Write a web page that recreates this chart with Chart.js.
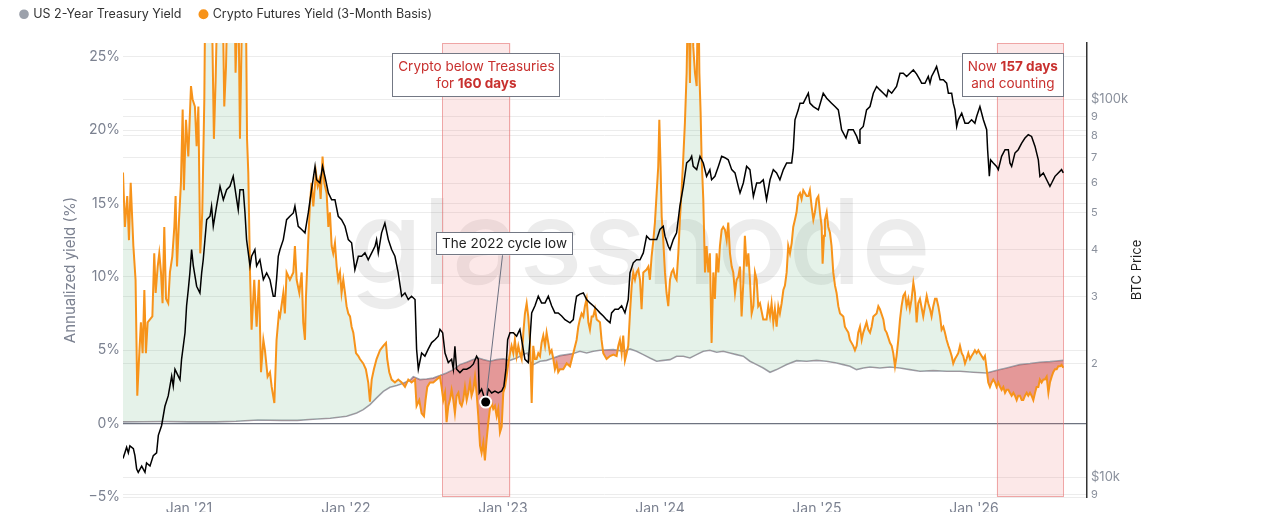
<!DOCTYPE html>
<html>
<head>
<meta charset="utf-8">
<style>
html,body{margin:0;padding:0;background:#fff;}
#wrap{width:1280px;height:512px;position:relative;}
</style>
<script src="https://cdn.jsdelivr.net/npm/chart.js@4.4.1/dist/chart.umd.min.js"></script>
</head>
<body>
<div id="wrap"><canvas id="c" width="1280" height="512"></canvas></div>
<script>
// ---------- DATA (x = decimal year) ----------
const treasuryYield = [
[2020.580,0.12],[2020.700,0.13],[2020.850,0.14],[2021.000,0.12],[2021.170,0.12],[2021.300,0.16],[2021.440,0.25],[2021.590,0.22],
[2021.690,0.22],[2021.790,0.30],[2021.900,0.36],[2022.004,0.50],[2022.068,0.72],[2022.110,0.95],[2022.153,1.30],[2022.195,1.75],
[2022.238,2.20],[2022.280,2.47],[2022.323,2.60],[2022.365,2.75],[2022.408,2.95],[2022.429,3.20],[2022.471,3.00],[2022.514,3.04],
[2022.556,3.10],[2022.599,3.27],[2022.641,3.45],[2022.684,3.68],[2022.726,4.02],[2022.769,4.18],[2022.811,4.36],[2022.843,4.47],
[2022.875,4.36],[2022.917,4.25],[2022.960,4.36],[2023.002,4.41],[2023.044,4.31],[2023.087,4.47],[2023.129,4.70],[2023.155,4.81],
[2023.172,4.25],[2023.193,4.02],[2023.236,4.25],[2023.278,4.31],[2023.321,4.47],[2023.363,4.63],[2023.406,4.70],[2023.448,4.77],
[2023.490,4.93],[2023.533,4.81],[2023.575,4.93],[2023.618,5.00],[2023.703,5.04],[2023.766,4.93],[2023.809,5.09],[2023.851,4.93],
[2023.894,4.70],[2023.936,4.47],[2023.979,4.25],[2024.021,4.31],[2024.064,4.36],[2024.106,4.59],[2024.149,4.59],[2024.191,4.47],
[2024.233,4.70],[2024.276,4.93],[2024.318,5.00],[2024.361,4.86],[2024.403,4.93],[2024.446,4.81],[2024.488,4.70],[2024.531,4.59],
[2024.573,4.25],[2024.616,4.02],[2024.658,3.79],[2024.701,3.50],[2024.743,3.68],[2024.807,4.02],[2024.870,4.29],[2024.934,4.25],
[2024.998,4.31],[2025.061,4.25],[2025.125,4.13],[2025.168,4.02],[2025.210,3.91],[2025.252,3.68],[2025.295,3.79],[2025.338,3.86],
[2025.401,3.79],[2025.465,3.86],[2025.529,3.79],[2025.592,3.68],[2025.656,3.57],[2025.741,3.61],[2025.826,3.57],[2025.911,3.57],
[2025.996,3.50],[2026.081,3.45],[2026.123,3.57],[2026.166,3.68],[2026.208,3.79],[2026.251,3.91],[2026.293,4.02],[2026.357,4.09],
[2026.420,4.18],[2026.484,4.22],[2026.527,4.27],[2026.569,4.31]
];

const cryptoYield = [
[2020.580,17.1],[2020.592,13.4],[2020.607,15.5],[2020.618,12.5],[2020.629,16.4],[2020.646,12.1],[2020.660,9.8],[2020.671,1.9],
[2020.682,4.4],[2020.694,6.9],[2020.705,4.8],[2020.716,9.1],[2020.726,4.8],[2020.737,6.9],[2020.752,7.1],[2020.767,7.3],
[2020.779,11.6],[2020.788,8.9],[2020.801,10.7],[2020.811,11.6],[2020.822,10.3],[2020.832,8.2],[2020.843,13.4],[2020.854,8.5],
[2020.868,8.2],[2020.879,10.3],[2020.894,11.4],[2020.907,13.4],[2020.915,15.5],[2020.924,10.7],[2020.936,13.7],[2020.949,16.4],
[2020.960,21.4],[2020.968,15.9],[2020.981,20.7],[2020.996,18.2],[2021.013,23.0],[2021.023,22.1],[2021.038,21.6],[2021.049,18.9],
[2021.060,21.6],[2021.072,11.6],[2021.085,14.4],[2021.098,22.1],[2021.106,32],[2021.123,38],[2021.144,30],[2021.159,19.4],
[2021.170,23.4],[2021.183,30],[2021.208,34],[2021.225,21.6],[2021.236,24.3],[2021.251,32],[2021.283,36],[2021.297,23.9],
[2021.314,30],[2021.325,19.4],[2021.340,29],[2021.361,31],[2021.370,19.4],[2021.378,17.1],[2021.389,10.3],[2021.399,6.4],
[2021.416,9.8],[2021.431,6.6],[2021.446,9.8],[2021.459,3.5],[2021.474,5.7],[2021.484,5.0],[2021.501,3.2],[2021.516,3.5],
[2021.527,2.5],[2021.544,1.4],[2021.558,5.7],[2021.573,7.5],
[2021.580,7.3],[2021.601,8.9],[2021.611,7.5],[2021.622,10.3],[2021.643,9.8],[2021.665,10.3],[2021.675,12.1],[2021.686,9.8],
[2021.703,8.9],[2021.718,10.3],[2021.728,6.9],[2021.739,5.7],[2021.745,8.5],[2021.760,12.5],[2021.771,15.0],[2021.781,16.4],
[2021.792,14.8],[2021.809,17.1],[2021.820,16.2],[2021.830,16.6],[2021.839,15.3],[2021.851,18.2],[2021.862,16.4],[2021.877,15.7],
[2021.888,13.4],[2021.898,14.4],[2021.909,12.1],[2021.919,11.6],[2021.930,12.3],[2021.941,10.7],[2021.951,9.8],[2021.962,10.3],
[2021.972,8.9],[2021.983,9.8],[2021.994,8.9],[2022.004,8.0],[2022.015,7.5],[2022.026,7.3],[2022.036,6.6],[2022.047,6.2],
[2022.064,4.8],[2022.079,4.6],[2022.089,4.4],[2022.110,4.1],[2022.127,3.7],[2022.142,2.8],[2022.153,1.5],[2022.164,3.0],
[2022.178,3.7],[2022.195,4.4],[2022.217,5.0],[2022.238,5.3],[2022.255,5.5],[2022.263,4.4],[2022.276,3.5],[2022.291,3.0],
[2022.312,2.8],[2022.333,3.0],[2022.355,2.8],[2022.376,2.5],[2022.397,3.0],[2022.418,2.8],[2022.440,3.0],[2022.450,1.2],
[2022.467,1.6],[2022.482,0.7],[2022.497,0.5],[2022.507,1.6],[2022.518,2.5],[2022.535,2.8],[2022.556,2.8],[2022.578,3.0],
[2022.599,3.2],[2022.609,2.5],[2022.620,1.6],[2022.631,2.1],[2022.641,0.1],[2022.652,1.2],[2022.662,1.6],[2022.673,2.3],
[2022.684,1.6],[2022.694,0.7],[2022.705,1.9],[2022.716,2.1],[2022.726,1.4],[2022.737,1.2],[2022.747,1.6],[2022.758,2.5],
[2022.769,1.6],[2022.779,2.1],[2022.790,2.8],[2022.800,1.9],[2022.811,2.3],[2022.822,3.2],[2022.832,2.1],[2022.843,0.5],
[2022.854,-1.5],[2022.864,-2.0],[2022.875,-1.3],[2022.885,-2.5],[2022.896,-1.1],[2022.907,0.1],[2022.917,1.0],[2022.928,1.4],
[2022.938,1.0],[2022.949,1.2],[2022.960,0.5],[2022.970,1.0],[2022.981,-0.6],[2022.992,-0.2],[2023.002,2.1],[2023.013,2.5],
[2023.023,3.2],[2023.034,4.1],[2023.045,4.8],[2023.055,5.3],[2023.066,4.8],[2023.076,5.7],[2023.087,4.6],[2023.098,5.3],
[2023.108,4.8],[2023.119,4.4],[2023.130,6.2],[2023.140,7.5],[2023.151,8.2],[2023.161,7.3],[2023.172,5.7],[2023.183,1.4],
[2023.193,5.3],[2023.204,4.4],[2023.214,4.4],[2023.225,4.8],[2023.236,4.6],[2023.246,5.5],[2023.257,6.0],[2023.268,5.3],
[2023.278,6.2],[2023.289,5.5],[2023.299,4.8],[2023.310,5.0],[2023.321,4.4],[2023.331,3.7],[2023.342,4.1],[2023.352,3.5],
[2023.363,3.7],[2023.384,3.7],[2023.406,4.1],[2023.427,3.9],[2023.448,4.8],[2023.469,5.7],[2023.480,6.6],[2023.490,7.1],
[2023.501,7.5],[2023.512,7.3],[2023.522,8.0],[2023.533,8.5],[2023.544,6.9],[2023.554,6.4],[2023.565,7.3],[2023.575,7.3],
[2023.586,7.8],[2023.597,7.1],
[2023.618,6.9],[2023.628,5.7],[2023.639,4.8],[2023.660,4.4],[2023.682,4.6],[2023.703,4.7],[2023.724,4.6],[2023.735,5.3],
[2023.745,5.7],[2023.756,4.8],[2023.766,6.0],[2023.777,4.3],[2023.788,4.8],[2023.798,5.3],[2023.809,7.5],[2023.820,9.4],
[2023.830,10.3],[2023.841,9.8],[2023.851,10.3],[2023.862,10.5],[2023.873,9.8],[2023.883,7.8],[2023.894,10.3],[2023.915,10.5],
[2023.926,10.7],[2023.936,9.8],[2023.947,11.4],[2023.958,12.5],[2023.968,13.7],[2023.979,15.7],[2023.989,17.5],[2023.996,20.7],
[2024.004,17.5],[2024.011,14.1],[2024.021,12.5],[2024.032,10.3],[2024.042,8.9],[2024.053,8.0],[2024.064,9.8],[2024.074,10.3],
[2024.085,10.5],[2024.096,10.0],[2024.106,9.8],[2024.117,11.6],[2024.127,13.9],[2024.138,15.9],[2024.149,18.2],[2024.159,20.5],
[2024.170,23.9],[2024.180,30],[2024.191,23.2],[2024.202,33],[2024.212,25.7],[2024.223,23.9],[2024.234,23.0],[2024.244,31],
[2024.251,23.9],[2024.259,21.2],[2024.265,18.2],[2024.276,15.3],[2024.287,10.3],[2024.297,12.1],[2024.308,10.3],[2024.318,11.6],
[2024.329,5.5],[2024.340,10.3],[2024.350,8.5],[2024.361,11.6],[2024.372,10.3],[2024.382,12.1],[2024.393,13.2],[2024.403,13.4],
[2024.414,13.2],[2024.425,12.5],[2024.435,13.7],[2024.446,11.6],[2024.457,10.7],[2024.467,10.3],[2024.478,8.9],[2024.488,9.8],
[2024.499,10.0],[2024.510,10.7],[2024.520,7.3],[2024.531,9.6],[2024.541,12.8],[2024.552,10.7],[2024.563,11.6],[2024.573,9.8],
[2024.584,7.5],[2024.595,8.0],[2024.605,10.3],[2024.616,9.8],[2024.626,8.0],[2024.637,8.2],[2024.658,7.1],[2024.679,7.1],
[2024.690,8.0],[2024.701,7.3],[2024.711,8.2],[2024.722,6.9],[2024.732,7.8],[2024.743,6.6],[2024.754,8.0],[2024.764,7.5],
[2024.775,8.2],[2024.786,9.1],[2024.796,9.4],[2024.807,10.3],[2024.817,12.1],[2024.828,11.6],[2024.839,12.3],[2024.849,13.4],
[2024.860,13.9],[2024.870,14.4],[2024.881,15.5],[2024.892,15.7],[2024.902,15.3],[2024.913,15.9],[2024.924,15.7],[2024.934,15.5],
[2024.945,15.5],[2024.955,15.9],[2024.966,14.8],[2024.977,13.9],[2024.987,14.4],[2024.998,15.3],[2025.009,15.5],[2025.019,14.4],
[2025.030,13.4],[2025.036,10.9],[2025.045,12.8],[2025.051,13.9],[2025.062,14.4],[2025.072,13.4],[2025.083,13.0],[2025.093,12.1],
[2025.104,10.3],[2025.115,9.4],[2025.125,8.9],[2025.136,8.0],[2025.147,7.5],[2025.168,7.3],[2025.178,6.6],[2025.189,6.4],
[2025.200,6.2],[2025.210,5.7],[2025.231,5.3],[2025.242,5.0],[2025.253,5.3],[2025.263,6.2],[2025.274,6.6],[2025.285,5.7],
[2025.295,6.2],[2025.316,6.9],[2025.327,6.4],[2025.338,6.2],[2025.348,6.6],[2025.359,7.3],[2025.380,7.5],[2025.391,8.0],
[2025.401,7.8],[2025.423,7.1],[2025.433,6.4],[2025.444,6.2],[2025.465,5.5],[2025.476,5.3],[2025.486,4.8],[2025.497,3.9],
[2025.507,4.6],[2025.518,5.7],[2025.529,7.1],[2025.539,8.0],[2025.550,8.7],[2025.561,8.9],[2025.571,8.0],[2025.582,8.5],
[2025.592,7.8],[2025.603,8.5],[2025.614,9.6],[2025.624,8.9],[2025.635,6.9],[2025.645,8.2],[2025.656,8.5],[2025.677,7.3],
[2025.699,8.7],
[2025.709,8.2],[2025.720,7.8],[2025.730,7.3],[2025.741,8.0],[2025.752,8.5],[2025.762,8.5],[2025.773,8.0],[2025.784,7.3],
[2025.794,6.4],[2025.805,6.6],[2025.815,6.2],[2025.826,5.7],[2025.837,5.3],[2025.847,5.0],[2025.858,4.6],[2025.868,4.1],
[2025.879,4.4],[2025.890,4.6],[2025.900,4.8],[2025.911,5.3],[2025.922,4.8],[2025.932,4.6],[2025.943,4.1],[2025.953,4.4],
[2025.964,4.8],[2025.975,4.4],[2025.985,4.6],[2025.996,4.8],[2026.006,5.0],[2026.017,4.8],[2026.028,5.0],[2026.038,4.8],
[2026.049,4.6],[2026.060,4.4],[2026.070,4.6],[2026.081,3.7],[2026.091,2.8],[2026.102,2.5],[2026.113,2.8],[2026.123,3.0],
[2026.134,2.8],[2026.144,2.5],[2026.155,2.8],[2026.166,2.5],[2026.176,2.3],[2026.187,2.5],[2026.198,2.1],[2026.208,2.3],
[2026.219,2.3],[2026.229,2.1],[2026.240,1.9],[2026.251,2.1],[2026.261,1.9],[2026.272,1.6],[2026.282,1.9],[2026.293,1.9],
[2026.304,1.6],[2026.314,1.6],[2026.325,1.9],[2026.336,2.1],[2026.346,1.9],[2026.357,2.1],[2026.367,1.9],[2026.378,1.6],
[2026.389,2.1],[2026.399,2.5],[2026.410,2.5],[2026.420,3.0],[2026.431,2.8],[2026.442,3.0],[2026.452,3.0],[2026.463,3.2],
[2026.474,2.1],[2026.484,2.8],[2026.495,3.2],[2026.505,3.5],[2026.516,3.7],[2026.527,3.7],[2026.537,3.9],[2026.548,3.9],
[2026.558,4.0],[2026.569,3.8]
];

const btcPrice = [
[2020.580,11200],[2020.592,11600],[2020.603,12000],[2020.614,11600],[2020.624,12100],[2020.646,11900],[2020.656,11400],[2020.667,10500],
[2020.677,10300],[2020.699,10700],[2020.720,10300],[2020.730,10900],[2020.752,10700],[2020.773,11400],[2020.794,11600],[2020.805,12900],
[2020.826,13700],[2020.847,15400],[2020.868,16400],[2020.890,18500],[2020.900,17400],[2020.911,19300],[2020.932,18500],[2020.943,18100],
[2020.953,20500],[2020.975,24100],[2020.985,28400],[2020.996,31400],[2021.006,34700],[2021.017,40000],[2021.028,36200],[2021.049,32000],
[2021.070,30700],[2021.081,34700],[2021.091,37600],[2021.102,42500],[2021.113,48000],[2021.134,49000],[2021.144,52100],[2021.155,46100],
[2021.176,52100],[2021.198,58800],[2021.219,54200],[2021.240,57600],[2021.261,58800],[2021.282,62500],[2021.304,54200],[2021.314,51000],
[2021.325,57600],[2021.346,57600],[2021.357,50000],[2021.367,42500],[2021.389,36200],[2021.399,38400],[2021.420,40000],[2021.431,36200],
[2021.452,37600],[2021.474,33300],[2021.495,34700],[2021.516,33300],[2021.537,30100],[2021.548,30100],[2021.558,33300],[2021.569,38400],
[2021.580,40000],[2021.601,42500],[2021.622,48000],[2021.643,49000],[2021.665,50000],[2021.675,52100],[2021.696,46100],[2021.718,45200],
[2021.739,44300],[2021.760,50000],[2021.781,57600],[2021.803,66400],[2021.813,61200],[2021.834,60000],[2021.851,66400],[2021.866,62500],
[2021.888,56500],[2021.909,54200],[2021.930,54200],[2021.951,49000],[2021.972,48000],[2021.994,46100],[2022.015,42500],[2022.036,41700],
[2022.057,35400],[2022.079,38400],[2022.100,38400],[2022.121,39200],[2022.142,37600],[2022.164,39200],[2022.185,40800],[2022.195,42500],
[2022.206,39200],[2022.227,44300],[2022.248,47000],[2022.270,42500],[2022.291,40000],[2022.312,38400],[2022.333,34700],[2022.355,30100],
[2022.376,30700],[2022.397,29500],[2022.418,30100],[2022.440,29500],[2022.450,21800],[2022.461,19300],[2022.482,21300],[2022.503,20900],
[2022.524,21800],[2022.546,22700],[2022.567,23100],[2022.588,23600],
[2022.599,24600],[2022.616,24100],[2022.631,21300],[2022.652,20100],[2022.673,20500],[2022.684,19300],[2022.694,22200],[2022.705,19300],
[2022.726,18900],[2022.747,19300],[2022.769,19300],[2022.790,19500],[2022.811,19900],[2022.832,20900],[2022.843,20500],[2022.849,16700],
[2022.864,17100],[2022.890,15800],[2022.907,17100],[2022.928,16700],[2022.949,16900],[2022.970,16700],[2022.992,16900],[2023.006,17400],
[2023.019,19300],[2023.030,23100],[2023.045,24100],[2023.066,24100],[2023.087,23600],[2023.108,24600],[2023.119,23100],[2023.140,20500],
[2023.161,20100],[2023.172,23100],[2023.183,27200],[2023.204,28400],[2023.225,30100],[2023.246,28900],[2023.268,28900],[2023.289,30100],
[2023.310,28400],[2023.331,27200],[2023.352,27200],[2023.374,26700],[2023.395,26100],[2023.427,25600],[2023.448,26100],[2023.459,28400],
[2023.469,30100],[2023.490,30500],[2023.512,30700],[2023.533,29500],[2023.554,28900],[2023.575,28400],[2023.597,27800],
[2023.618,27200],[2023.639,26700],[2023.660,26100],[2023.682,25600],[2023.692,27200],[2023.713,27800],[2023.735,27800],[2023.756,28400],
[2023.777,27200],[2023.798,29500],[2023.809,34700],[2023.830,36900],[2023.851,37600],[2023.873,37600],[2023.894,39200],[2023.915,43400],
[2023.936,42500],[2023.958,42500],[2023.979,42500],[2024.000,45200],[2024.021,46100],[2024.032,43400],[2024.053,40800],[2024.064,40000],
[2024.085,42500],[2024.106,44300],[2024.127,52100],[2024.149,58800],[2024.170,67800],[2024.191,69100],[2024.202,70600],[2024.212,66400],
[2024.234,65100],[2024.255,70600],[2024.276,67800],[2024.297,62500],[2024.318,65100],[2024.329,61200],[2024.350,62500],[2024.372,66400],
[2024.393,70600],[2024.414,70000],[2024.435,69100],[2024.457,65100],[2024.478,63800],[2024.499,58800],[2024.510,56500],[2024.531,60000],
[2024.552,66400],[2024.573,65100],[2024.595,55300],[2024.616,60000],[2024.637,60000],[2024.658,61200],
[2024.679,54200],[2024.701,61200],[2024.722,65100],[2024.743,63800],[2024.764,61200],[2024.786,65100],[2024.807,67800],[2024.839,67800],
[2024.849,73500],[2024.860,88200],[2024.881,93700],[2024.892,97600],[2024.913,97600],[2024.945,103700],[2024.955,97600],[2024.977,95600],
[2025.009,93700],[2025.040,103700],[2025.062,100600],[2025.093,97600],[2025.115,95600],[2025.136,93700],[2025.147,88200],[2025.157,83000],
[2025.185,78900],[2025.200,83000],[2025.231,83000],[2025.253,79700],[2025.268,76500],[2025.274,83000],[2025.295,84700],[2025.316,93700],
[2025.338,95600],[2025.359,103700],[2025.380,108000],[2025.401,105800],[2025.423,103700],[2025.444,101600],[2025.454,105800],[2025.476,103700],
[2025.507,108000],[2025.529,117100],[2025.550,117100],[2025.571,114800],[2025.592,117100],[2025.614,119500],[2025.635,116500],[2025.656,112500],
[2025.667,110200],[2025.688,110200],[2025.709,114800],
[2025.720,110200],[2025.730,114800],[2025.752,119500],[2025.762,122000],[2025.773,117100],[2025.784,112500],[2025.805,112500],[2025.826,110200],
[2025.837,103700],[2025.858,103700],[2025.868,97600],[2025.879,93700],[2025.890,84700],[2025.900,88200],[2025.922,91800],[2025.943,86400],
[2025.964,86400],[2025.985,88200],[2026.006,86400],[2026.017,90000],[2026.038,95600],[2026.060,88200],[2026.081,83000],[2026.087,73500],
[2026.098,62500],[2026.106,69100],[2026.123,67800],[2026.144,66400],[2026.155,65100],[2026.176,70600],[2026.198,73500],[2026.219,73500],
[2026.229,67800],[2026.240,66400],[2026.261,72000],[2026.282,73500],[2026.304,76500],[2026.325,78900],[2026.346,80500],[2026.367,79700],
[2026.389,75000],[2026.410,69100],[2026.420,62500],[2026.442,63800],[2026.463,61200],[2026.484,58800],[2026.495,60000],[2026.516,62500],
[2026.537,63800],[2026.558,65100],[2026.569,63800]
];

const yearTicks = [2021, 2022, 2023, 2024, 2025, 2026];
const yieldTicks = [-5, 0, 5, 10, 15, 20, 25];
const btcTicks = [9000, 10000, 20000, 30000, 40000, 50000, 60000, 70000, 80000, 90000, 100000];
const belowPeriods = [[2022.613, 2023.049], [2026.145, 2026.573]];
const periodNotes = [
  [[['Crypto below Treasuries', false]], [['for ', false], ['160 days', true]]],
  [[['Now ', false], ['157 days', true]], [['and counting', false]]]
];
const cycleLow = { date: 2022.890, price: 15800, text: 'The 2022 cycle low', labelDate: 2023.01, labelYield: 12.25 };

// ---------- CHART ----------
const FONT = 'Inter, "Noto Sans", sans-serif';
Chart.defaults.font.family = FONT;
Chart.defaults.color = '#7b8190';
const toPts = arr => arr.map(p => ({ x: p[0], y: p[1] }));

function drawLabelBox(ctx, lines, anchorX, top, o) {
  const font = b => (b ? '700 ' : '400 ') + o.size + 'px ' + FONT;
  const widths = lines.map(segs => segs.reduce((w, s) => { ctx.font = font(s[1]); return w + ctx.measureText(s[0]).width; }, 0));
  const w = Math.max(...widths) + 2 * o.padX;
  const h = lines.length * o.lineH + 2 * o.padY;
  const left = o.align === 'right' ? anchorX - w : anchorX - w / 2;
  ctx.fillStyle = '#ffffff';
  ctx.fillRect(left, top, w, h);
  ctx.strokeStyle = o.border; ctx.lineWidth = 1;
  ctx.strokeRect(Math.round(left) + 0.5, Math.round(top) + 0.5, Math.round(w) - 1, Math.round(h) - 1);
  ctx.textBaseline = 'middle'; ctx.textAlign = 'left'; ctx.fillStyle = o.color;
  lines.forEach((segs, i) => {
    let x = left + (w - widths[i]) / 2;
    const y = top + o.padY + o.lineH * (i + 0.5);
    segs.forEach(s => { ctx.font = font(s[1]); ctx.fillText(s[0], x, y); x += ctx.measureText(s[0]).width; });
  });
  return { left, top, w, h };
}

const annotPlugin = {
  id: 'annot',
  beforeDatasetsDraw(chart) {
    const { ctx, chartArea: a, scales } = chart;
    const x = scales.x;
    ctx.save();
    ctx.font = '500 118px ' + FONT;
    ctx.fillStyle = 'rgba(0,0,0,0.075)';
    ctx.textAlign = 'center'; ctx.textBaseline = 'alphabetic';
    ctx.fillText('glassnode', chart.width / 2, a.top + 241);
    belowPeriods.forEach(p => {
      const x0 = x.getPixelForValue(p[0]), x1 = x.getPixelForValue(p[1]);
      ctx.fillStyle = 'rgba(236,110,110,0.16)';
      ctx.fillRect(x0, a.top, x1 - x0, a.bottom - a.top);
      ctx.strokeStyle = 'rgba(230,120,120,0.6)'; ctx.lineWidth = 1;
      ctx.strokeRect(Math.round(x0) + 0.5, a.top + 0.5, Math.round(x1 - x0) - 1, a.bottom - a.top - 1);
    });
    ctx.restore();
  },
  afterDatasetsDraw(chart) {
    const { ctx, chartArea: a, scales } = chart;
    const x = scales.x, y = scales.y, y2 = scales.y2;
    ctx.save();
    const p1 = belowPeriods[0], p2 = belowPeriods[1];
    drawLabelBox(ctx, periodNotes[0], (x.getPixelForValue(p1[0]) + x.getPixelForValue(p1[1])) / 2, a.top + 10,
      { size: 13.5, lineH: 17, padX: 6, padY: 5, color: '#c8302e', border: '#737884', align: 'center' });
    drawLabelBox(ctx, periodNotes[1], x.getPixelForValue(p2[1]), a.top + 10,
      { size: 13.5, lineH: 17, padX: 6, padY: 5, color: '#c8302e', border: '#737884', align: 'right' });
    const dx = x.getPixelForValue(cycleLow.date), dy = y2.getPixelForValue(cycleLow.price);
    const lx = x.getPixelForValue(cycleLow.labelDate), ly = y.getPixelForValue(cycleLow.labelYield);
    const box = drawLabelBox(ctx, [[[cycleLow.text, false]]], lx, ly - 11.5,
      { size: 13.5, lineH: 17, padX: 6, padY: 3, color: '#222222', border: '#737884', align: 'center' });
    ctx.strokeStyle = '#6b7080'; ctx.lineWidth = 1;
    ctx.beginPath(); ctx.moveTo(lx - 2, box.top + box.h); ctx.lineTo(dx, dy); ctx.stroke();
    ctx.fillStyle = '#ffffff';
    ctx.beginPath(); ctx.arc(dx, dy, 6.5, 0, Math.PI * 2); ctx.fill();
    ctx.fillStyle = '#000000';
    ctx.beginPath(); ctx.arc(dx, dy, 4.5, 0, Math.PI * 2); ctx.fill();
    ctx.restore();
  },
  afterDraw(chart) {
    const { ctx, chartArea: a } = chart;
    ctx.save();
    ctx.translate(a.right + 50, (a.top + a.bottom) / 2);
    ctx.rotate(-Math.PI / 2);
    ctx.font = '13px ' + FONT; ctx.fillStyle = '#1f1f1f';
    ctx.textAlign = 'center'; ctx.textBaseline = 'middle';
    ctx.fillText('BTC Price', 0, 0);
    ctx.restore();
  }
};

new Chart(document.getElementById('c'), {
  type: 'line',
  data: {
    datasets: [
      { label: 'US 2-Year Treasury Yield', data: toPts(treasuryYield), yAxisID: 'y', order: 2,
        borderColor: '#9ca1ab', backgroundColor: '#9ca1ab', borderWidth: 1.6, pointRadius: 0, fill: false },
      { label: 'Crypto Futures Yield (3-Month Basis)', data: toPts(cryptoYield), yAxisID: 'y', order: 1,
        borderColor: '#f7931a', backgroundColor: '#f7931a', borderWidth: 2, pointRadius: 0,
        fill: { target: 0, above: 'rgba(125,190,145,0.2)', below: 'rgba(200,55,55,0.45)' } },
      { label: 'BTC Price', data: toPts(btcPrice), yAxisID: 'y2', order: 0,
        borderColor: '#000000', backgroundColor: '#000000', borderWidth: 1.5, pointRadius: 0, fill: false }
    ]
  },
  options: {
    responsive: false,
    animation: false,
    layout: { padding: { top: -11, left: 2, right: 0, bottom: 0 } },
    plugins: {
      legend: {
        display: true, position: 'top', align: 'start',
        labels: { usePointStyle: true, pointStyle: 'circle', boxWidth: 6, boxHeight: 5.7, padding: 19,
          color: '#333333', font: { size: 12.5 },
          filter: item => item.datasetIndex !== 2,
          sort: (a, b) => a.datasetIndex - b.datasetIndex }
      },
      tooltip: { enabled: false }
    },
    scales: {
      x: {
        type: 'linear', position: 'bottom', min: 2020.58, max: 2026.72,
        grid: { display: false, drawTicks: false }, border: { display: false },
        afterBuildTicks: s => { s.ticks = yearTicks.map(v => ({ value: v })); },
        afterFit: s => { s.height = 15; },
        ticks: { padding: 3, maxRotation: 0, font: { size: 14 }, color: '#7b8190',
          callback: v => "Jan '" + String(v).slice(2) }
      },
      xTop: {
        type: 'linear', position: 'top', display: true,
        grid: { display: false, drawTicks: false }, border: { display: false }, ticks: { display: false },
        afterFit: s => { s.height = 12.5; }
      },
      y: {
        type: 'linear', position: 'left', min: -5, max: 25.93,
        afterBuildTicks: s => { s.ticks = yieldTicks.map(v => ({ value: v })); },
        afterFit: s => { s.width = 121; },
        border: { display: false },
        grid: { drawTicks: false,
          color: c => (c.tick && c.tick.value === 0) ? '#6e7380' : '#ececec',
          lineWidth: c => (c.tick && c.tick.value === 0) ? 1.2 : 1 },
        ticks: { padding: 3, font: { size: 14 }, color: '#7b8190',
          callback: v => (v < 0 ? '\u2212' + Math.abs(v) : v) + '%' },
        title: { display: true, text: 'Annualized yield (%)', color: '#7b8190', font: { size: 15 }, padding: { top: 59, bottom: 0 } }
      },
      y2: {
        type: 'logarithmic', position: 'right', min: 8860, max: 140800,
        afterBuildTicks: s => { s.ticks = btcTicks.map(v => ({ value: v })); },
        afterFit: s => { s.width = 193; },
        border: { display: true, color: '#333333', width: 1.5 },
        grid: { drawTicks: false, color: '#ececec' },
        ticks: { padding: 4, color: '#8a909c',
          font: c => ({ size: (c.tick && (c.tick.value === 10000 || c.tick.value === 100000)) ? 13 : 11 }),
          callback: v => v === 100000 ? '$100k' : v === 10000 ? '$10k' : String(Math.round(v / Math.pow(10, Math.floor(Math.log10(v))))) }
      }
    }
  },
  plugins: [annotPlugin]
});
</script>
</body>
</html>
